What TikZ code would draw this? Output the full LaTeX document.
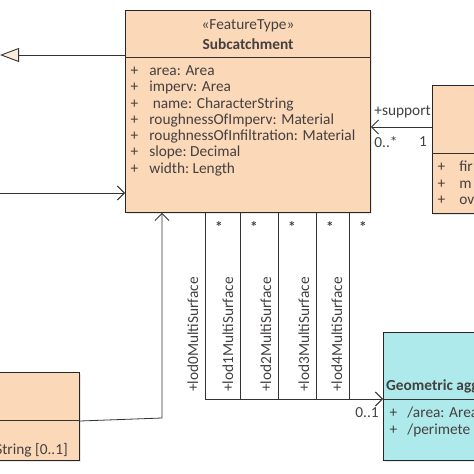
\documentclass[tikz,border=0pt]{standalone}
\usepackage{fontspec}
\setmainfont{Carlito}
\usetikzlibrary{arrows.meta,positioning,calc,shadows}
\definecolor{barack}{HTML}{FBD8B8}
\definecolor{halvany}{HTML}{FCEBDA}
\definecolor{turkiz}{HTML}{AEEAEC}
\definecolor{szoveg}{HTML}{444040}
\newcommand{\pl}[1][11bp]{+\hspace{#1}}
\newcommand{\betu}{\fontsize{15.4}{16.33}\selectfont}
\tikzset{
  osz/.style={draw=black!85,fill=barack,line width=0.9bp,anchor=north west,inner sep=0pt,
    drop shadow={opacity=0.18,shadow xshift=1.5bp,shadow yshift=-1.5bp}},
  sor/.style={align=left,anchor=north west,inner sep=0pt},
  vonal/.style={draw=black!80,line width=0.8bp},
  nyil/.style={vonal,-{Straight Barb[length=7bp,width=14bp,line width=0.9bp]}},
  gen/.style={vonal,-{Triangle[length=19bp,width=14bp,fill=halvany,line width=0.9bp]}},
  cimke/.style={inner sep=0pt},
}

\begin{document}
\begin{tikzpicture}[x=1bp,y=-1bp,font=\betu,text=szoveg]
  \useasboundingbox (0,0) rectangle (474,474);
  \clip (0,0) rectangle (474,474);

  % Subcatchment
  \node[osz,minimum width=245bp,minimum height=202bp] (sub) at (125,10) {};
  \draw[vonal] (sub.west |- 0,57) -- (sub.east |- 0,57);
  \node (subst) at (248,26) {«FeatureType»};
  \node[font=\betu\bfseries] (subnev) at (248,44) {Subcatchment};
  \node[sor] (subattr) at (130.5,65.5) {\pl area: Area\\ \pl imperv: Area\\ \pl\ name: CharacterString\\
    \pl roughnessOfImperv: Material\\ \pl roughnessOfInfiltration: Material\\
    \pl slope:\ Decimal\\ \pl width:\ Length};

  % jobb oldali osztaly
  \node[osz,minimum width=80bp,minimum height=128bp] (tam) at (432,85) {};
  \draw[vonal] (tam.west |- 0,153) -- (tam.east |- 0,153);
  \node[sor] (tamattr) at (437.5,161) {\pl[14bp]fir\\ \pl[14bp]m\\ \pl[14bp]ov};

  % Geometric aggregate
  \node[osz,fill=turkiz,minimum width=120bp,minimum height=128bp] (geo) at (383,332) {};
  \draw[vonal] (geo.west |- 0,399) -- (geo.east |- 0,399);
  \node[font=\betu\bfseries,anchor=west,inner sep=0pt] (geonev) at (386,386) {Geometric agg};
  \node[sor] (geoattr) at (389.5,407) {\pl[10bp]/area: Area\\ \pl[10bp]/perimete};

  % bal also osztaly
  \node[osz,minimum width=119bp,minimum height=88bp] (also) at (-40,372) {};
  \draw[vonal] (also.west |- 0,420) -- (also.east |- 0,420);
  \node[anchor=east,inner sep=0pt] (alsoattr) at (68,450) {String [0..1]};

  % kapcsolatok
  \coordinate (g) at (0,55);
  \draw[gen] (sub.west |- g) -- (g);
  \coordinate (b) at (0,193);
  \draw[nyil] (b) -- (sub.west |- b);
  \coordinate (t) at (162,418);
  \draw[nyil] (also.east |- 0,421) -- (t) -- (t |- sub.south);

  \draw[nyil] (tam.west |- 0,127) -- (sub.east |- 0,127);
  \node[cimke,anchor=east] (supp) at (431,112) {+support};
  \node[cimke] (m1) at (386,142) {0..*};
  \node[cimke] (m2) at (423,142) {1};

  \foreach \x/\n in {205/0,240/1,278/2,316/3,349/4} {
    \draw[vonal] (sub.south -| \x,0) -- (\x,399);
    \node[cimke,rotate=90,anchor=base west] at (\x-7,392) {+lod\n MultiSurface};
    \node[cimke,font=\betu\bfseries] at (\x+14,227) {*};
  }
  \draw[nyil] (205,399) -- (geo.west |- 0,399);
  \node[cimke] (m3) at (367,413) {0..1};
\end{tikzpicture}
\end{document}
